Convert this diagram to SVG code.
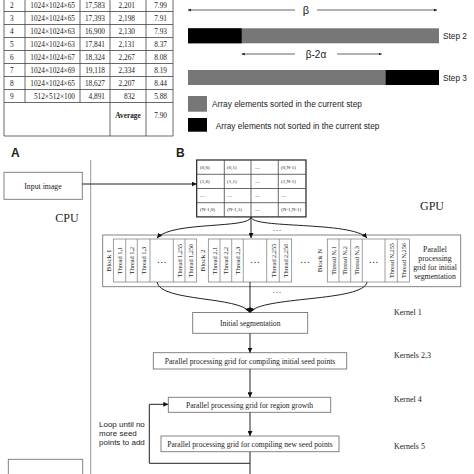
<svg xmlns="http://www.w3.org/2000/svg" width="474" height="474" viewBox="0 0 474 474">
<defs>
<marker id="ah" viewBox="0 0 10 10" refX="10" refY="5" markerWidth="5" markerHeight="5" markerUnits="userSpaceOnUse" orient="auto"><path d="M0,0 L10,5 L0,10 z" fill="#111"/></marker>
<marker id="ahs" viewBox="0 0 10 10" refX="10" refY="5" markerWidth="3" markerHeight="3" markerUnits="userSpaceOnUse" orient="auto-start-reverse"><path d="M0,0 L10,5 L0,10 z" fill="#222"/></marker>
<style>
.ser{font-family:"Liberation Serif","Times New Roman",serif;fill:#222}
.sans{font-family:"Liberation Sans",Arial,sans-serif;fill:#222}
.tb{font-size:7.3px}
.tl{stroke:#444;stroke-width:0.8;fill:none}
.box{fill:#fff;stroke:#777;stroke-width:0.9}
.cell{fill:#fff;stroke:#777;stroke-width:0.7}
.th{font-size:6.3px;text-anchor:middle;dominant-baseline:central}
.fb{font-size:7.6px;text-anchor:middle}
.con{stroke:#222;stroke-width:1;fill:none}
.gt{font-size:5px}
.ker{font-size:8px}
</style>
</defs>

<g id="table">
<path class="tl" d="M4,0 V136 H173 V0 M25,0 V102.5 M80,0 V102.5 M110,0 V136 M146,0 V136"/>
<path class="tl" d="M4,11.5 H173 M4,24.5 H173 M4,37.5 H173 M4,50.5 H173 M4,63.5 H173 M4,76.5 H173 M4,89.5 H173 M4,102.5 H173"/>
<g class="ser tb">
<text x="10" y="7.5">2</text><text x="75" y="7.5" text-anchor="end">1024×1024×65</text><text x="105" y="7.5" text-anchor="end">17,583</text><text x="135" y="7.5" text-anchor="end">2,201</text><text x="167" y="7.5" text-anchor="end">7.99</text>
<text x="10" y="20.5">3</text><text x="75" y="20.5" text-anchor="end">1024×1024×65</text><text x="105" y="20.5" text-anchor="end">17,393</text><text x="135" y="20.5" text-anchor="end">2,198</text><text x="167" y="20.5" text-anchor="end">7.91</text>
<text x="10" y="33.5">4</text><text x="75" y="33.5" text-anchor="end">1024×1024×63</text><text x="105" y="33.5" text-anchor="end">16,900</text><text x="135" y="33.5" text-anchor="end">2,130</text><text x="167" y="33.5" text-anchor="end">7.93</text>
<text x="10" y="46.5">5</text><text x="75" y="46.5" text-anchor="end">1024×1024×63</text><text x="105" y="46.5" text-anchor="end">17,841</text><text x="135" y="46.5" text-anchor="end">2,131</text><text x="167" y="46.5" text-anchor="end">8.37</text>
<text x="10" y="59.5">6</text><text x="75" y="59.5" text-anchor="end">1024×1024×67</text><text x="105" y="59.5" text-anchor="end">18,324</text><text x="135" y="59.5" text-anchor="end">2,267</text><text x="167" y="59.5" text-anchor="end">8.08</text>
<text x="10" y="72.5">7</text><text x="75" y="72.5" text-anchor="end">1024×1024×69</text><text x="105" y="72.5" text-anchor="end">19,118</text><text x="135" y="72.5" text-anchor="end">2,334</text><text x="167" y="72.5" text-anchor="end">8.19</text>
<text x="10" y="85.5">8</text><text x="75" y="85.5" text-anchor="end">1024×1024×65</text><text x="105" y="85.5" text-anchor="end">18,627</text><text x="135" y="85.5" text-anchor="end">2,207</text><text x="167" y="85.5" text-anchor="end">8.44</text>
<text x="10" y="98.5">9</text><text x="75" y="98.5" text-anchor="end">512×512×100</text><text x="105" y="98.5" text-anchor="end">4,891</text><text x="135" y="98.5" text-anchor="end">832</text><text x="167" y="98.5" text-anchor="end">5.88</text>
<text x="128" y="118" text-anchor="middle" font-weight="bold">Average</text><text x="167" y="118" text-anchor="end">7.90</text>
</g>
</g>

<g id="sorting">
<path d="M188,10 H295 M317,10 H437" stroke="#222" stroke-width="0.7" marker-start="url(#ahs)" marker-end="url(#ahs)"/>
<text class="sans" x="306" y="14" font-size="11" text-anchor="middle">β</text>
<rect x="188" y="28.3" width="251" height="15" fill="#777"/>
<rect x="188" y="28.3" width="53.7" height="15" fill="#000"/>
<text class="sans" x="443" y="39" font-size="8.3">Step 2</text>
<path d="M241.7,54 H295 M337,54 H381.7" stroke="#222" stroke-width="0.7" marker-start="url(#ahs)" marker-end="url(#ahs)"/>
<text class="sans" x="316" y="58" font-size="10" text-anchor="middle">β-2α</text>
<rect x="188" y="70" width="251" height="15" fill="#777"/>
<rect x="385.7" y="70" width="53.3" height="15" fill="#000"/>
<text class="sans" x="443" y="81" font-size="8.3">Step 3</text>
<rect x="188" y="96" width="19" height="15.7" fill="#777"/>
<text class="sans" x="212" y="107" font-size="8.3">Array elements sorted in the current step</text>
<rect x="188" y="118" width="19" height="13.7" fill="#000"/>
<text class="sans" x="215.7" y="129" font-size="8.3">Array elements not sorted in the current step</text>
</g>

<text class="sans" x="11" y="157" font-size="12" font-weight="bold">A</text>
<text class="sans" x="176" y="157" font-size="12" font-weight="bold">B</text>

<line x1="90.7" y1="160" x2="90.7" y2="474" stroke="#999" stroke-width="1"/>
<text class="ser" x="67" y="222" font-size="12" text-anchor="middle">CPU</text>
<text class="ser" x="432" y="210" font-size="12" text-anchor="middle">GPU</text>

<g id="input-image">
<rect class="box" x="4" y="172.3" width="78.3" height="27"/>
<text class="ser" x="43" y="188.5" font-size="7.8" text-anchor="middle">Input image</text>
</g>

<g id="image-grid">
<rect x="196.7" y="160" width="109.3" height="56.9" fill="#fff" stroke="#222" stroke-width="1.2"/>
<path d="M224.3,160 V216.9 M251,160 V216.9 M278.3,160 V216.9 M196.7,174.3 H306 M196.7,188.5 H306 M196.7,202.7 H306" stroke="#444" stroke-width="0.8"/>
<g class="ser gt">
<text x="200" y="168.8">(0,0)</text><text x="227" y="168.8">(0,1)</text><text x="255" y="168.8">—</text><text x="281" y="168.8">(0,N-1)</text>
<text x="200" y="183">(1,0)</text><text x="227" y="183">(1,1)</text><text x="255" y="183">—</text><text x="281" y="183">(1,N-1)</text>
<text x="200" y="197.2">—</text><text x="227" y="197.2">—</text><text x="255" y="197.2">—</text><text x="281" y="197.2">—</text>
<text x="200" y="211.4">(N-1,0)</text><text x="227" y="211.4">(N-1,1)</text><text x="255" y="211.4">—</text><text x="281" y="211.4">(N-1,N-1)</text>
</g>
</g>

<g id="thread-grid">
<rect class="box" x="102.7" y="235" width="358" height="51.7"/>
<g class="ser">
<text x="109" y="260.5" font-size="7" text-anchor="middle" dominant-baseline="central" transform="rotate(-90 109 260.5)">Block 1</text>
<text x="202.5" y="260.5" font-size="7" text-anchor="middle" dominant-baseline="central" transform="rotate(-90 202.5 260.5)">Block 2</text>
<text x="320" y="260.5" font-size="7" text-anchor="middle" dominant-baseline="central" transform="rotate(-90 320 260.5)">Block N</text>
<text x="305" y="263" font-size="10" text-anchor="middle">…</text>
</g>
<g id="block1">
<rect class="cell" x="113.3" y="239" width="83.4" height="43"/>
<path d="M125.7,239 V282 M137.3,239 V282 M150,239 V282 M173.3,239 V282 M185,239 V282" stroke="#777" stroke-width="0.7"/>
<g class="ser th">
<text x="119.5" y="260.5" transform="rotate(-90 119.5 260.5)">Thread 1,1</text>
<text x="131.5" y="260.5" transform="rotate(-90 131.5 260.5)">Thread 1,2</text>
<text x="143.6" y="260.5" transform="rotate(-90 143.6 260.5)">Thread 1,3</text>
<text x="179.1" y="260.5" transform="rotate(-90 179.1 260.5)">Thread 1,255</text>
<text x="190.8" y="260.5" transform="rotate(-90 190.8 260.5)">Thread 1,256</text>
</g>
<text class="ser" x="161.7" y="263" font-size="10" text-anchor="middle">…</text>
</g>
<g id="block2">
<rect class="cell" x="208.3" y="239" width="83.4" height="43"/>
<path d="M220,239 V282 M231.7,239 V282 M243.3,239 V282 M266.7,239 V282 M279.3,239 V282" stroke="#777" stroke-width="0.7"/>
<g class="ser th">
<text x="214.1" y="260.5" transform="rotate(-90 214.1 260.5)">Thread 2,1</text>
<text x="225.8" y="260.5" transform="rotate(-90 225.8 260.5)">Thread 2,2</text>
<text x="237.5" y="260.5" transform="rotate(-90 237.5 260.5)">Thread 2,3</text>
<text x="273" y="260.5" transform="rotate(-90 273 260.5)">Thread 2,255</text>
<text x="285.5" y="260.5" transform="rotate(-90 285.5 260.5)">Thread 2,256</text>
</g>
<text class="ser" x="255" y="263" font-size="10" text-anchor="middle">…</text>
</g>
<g id="blockN">
<rect class="cell" x="327.3" y="239" width="82" height="43"/>
<path d="M339,239 V282 M350.7,239 V282 M362.3,239 V282 M385,239 V282 M397.3,239 V282" stroke="#777" stroke-width="0.7"/>
<g class="ser th">
<text x="333.1" y="260.5" transform="rotate(-90 333.1 260.5)">Thread N,1</text>
<text x="344.8" y="260.5" transform="rotate(-90 344.8 260.5)">Thread N,2</text>
<text x="356.5" y="260.5" transform="rotate(-90 356.5 260.5)">Thread N,3</text>
<text x="391.1" y="260.5" transform="rotate(-90 391.1 260.5)">Thread N,255</text>
<text x="403.3" y="260.5" transform="rotate(-90 403.3 260.5)">Thread N,256</text>
</g>
<text class="ser" x="373.6" y="263" font-size="10" text-anchor="middle">…</text>
</g>
<g class="ser" font-size="7.8" text-anchor="middle">
<text x="435" y="251.5">Parallel</text>
<text x="435" y="260.8">processing</text>
<text x="435" y="270.1">grid for initial</text>
<text x="435" y="279.4">segmentation</text>
</g>
</g>

<g id="initial-segmentation">
<rect class="box" x="192.7" y="312.5" width="115" height="20.8"/>
<text class="ser fb" x="250.2" y="325.5">Initial segmentation</text>
</g>
<g id="seed-points">
<rect class="box" x="153.3" y="352.7" width="193.4" height="16.3"/>
<text class="ser fb" x="250" y="363.5">Parallel processing grid for compiling initial seed points</text>
</g>
<g id="region-growth">
<rect class="box" x="168.3" y="397.3" width="162.4" height="15"/>
<text class="ser fb" x="249.5" y="407.5">Parallel processing grid for region growth</text>
</g>
<g id="new-seed-points">
<rect class="box" x="161" y="436" width="178" height="15.7"/>
<text class="ser fb" x="250" y="446.6">Parallel processing grid for compiling new seed points</text>
</g>
<g id="cpu-box">
<rect class="box" x="8.3" y="459.3" width="74.4" height="20"/>
</g>

<g class="ser ker">
<text x="394" y="315">Kernel 1</text>
<text x="394" y="358">Kernels 2,3</text>
<text x="394" y="402">Kernel 4</text>
<text x="394" y="449">Kernels 5</text>
</g>
<g class="sans" font-size="8">
<text x="99" y="427">Loop until no</text>
<text x="99" y="436.3">more seed</text>
<text x="99" y="445.3">points to add</text>
</g>

<g id="connectors">
<path class="con" d="M82.3,184 H196.7" marker-end="url(#ah)"/>
<path class="con" d="M251,217 C250,229 172,221 157,238" marker-end="url(#ah)"/>
<path class="con" d="M251,217 V238" marker-end="url(#ah)"/>
<path class="con" d="M251,217 C252,229 352,221 367,238" marker-end="url(#ah)"/>
<text class="ser" x="277" y="231" font-size="9" text-anchor="middle">…</text>
<path class="con" d="M157,282 C160,302 240,296 250,312.5" marker-end="url(#ah)"/>
<path class="con" d="M250,282 V312.5" marker-end="url(#ah)"/>
<path class="con" d="M367,282 C364,302 260,296 250,312.5" marker-end="url(#ah)"/>
<text class="ser" x="277" y="293" font-size="9" text-anchor="middle">…</text>
<path class="con" d="M250,333.3 V352.7" marker-end="url(#ah)"/>
<path class="con" d="M250,369 V397.3" marker-end="url(#ah)"/>
<path class="con" d="M250,412.3 V436" marker-end="url(#ah)"/>
<path class="con" d="M250,451.7 V474"/>
<path class="con" d="M250,463.3 H149.3 V404.3 H168.3" marker-end="url(#ah)"/>
</g>
</svg>
